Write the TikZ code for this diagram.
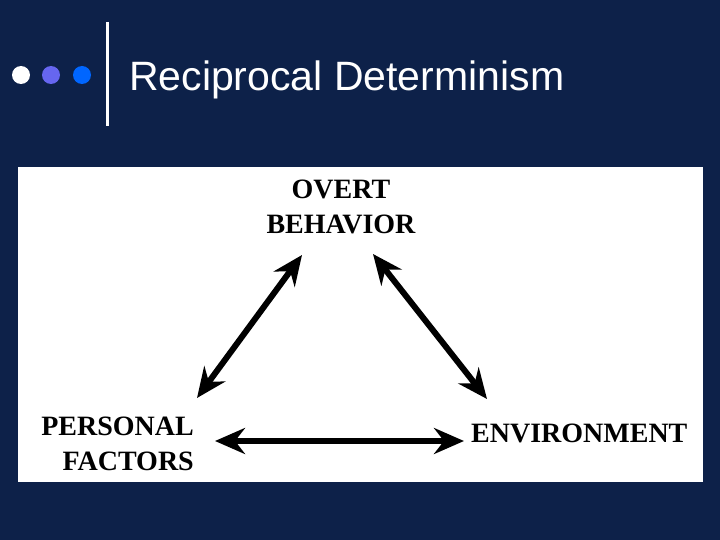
\documentclass[tikz,border=0pt]{standalone}
\usepackage{fontspec}
\setmainfont{Liberation Serif}
\newfontfamily\titlefont{Liberation Sans}
\usetikzlibrary{arrows.meta}
\definecolor{slidebg}{HTML}{0D2149}
\definecolor{dotviolet}{HTML}{6666F0}
\definecolor{dotblue}{HTML}{0066FF}

\begin{document}
\begin{tikzpicture}[x=1pt,y=-1pt,
  dot/.style={circle,inner sep=0pt,minimum size=18pt},
  factor/.style={font=\fontsize{28}{35}\selectfont\bfseries,inner sep=0pt,align=center},
  link/.style={{Stealth[length=30pt,width=26pt,inset=10pt]}-{Stealth[length=30pt,width=26pt,inset=10pt]}, line width=6pt}]

% Slide background and white panel
\fill[slidebg] (0,0) rectangle (720,540);
\useasboundingbox (0,0) rectangle (720,540);
\fill[white] (18,167) rectangle (703,482);

% Title bar
\node[dot,fill=white] (d1) at (21,75) {};
\node[dot,fill=dotviolet] (d2) at (51,75) {};
\node[dot,fill=dotblue] (d3) at (82,75) {};
\draw[white,line width=3pt] (107,22) -- (107,126);
\node[anchor=base west,text=white,font=\titlefont\fontsize{41}{44}\selectfont,inner sep=0pt] (title) at (129,91) {Reciprocal Determinism};

% The three factors
\node[factor] (behavior) at (341,207) {OVERT\\BEHAVIOR};
\node[factor,align=right,anchor=east] (personal) at (194,444) {PERSONAL\\FACTORS};
\node[factor,anchor=west] (environment) at (471,433) {ENVIRONMENT};

% Arrow end points
\coordinate (bl) at (302,255);
\coordinate (pt) at (197,398);
\coordinate (br) at (373,254);
\coordinate (et) at (487,399);
\coordinate (pr) at (215,441);
\coordinate (el) at (464,441);

\draw[link] (bl) -- (pt);
\draw[link] (br) -- (et);
\draw[link] (pr) -- (el);

\end{tikzpicture}
\end{document}
